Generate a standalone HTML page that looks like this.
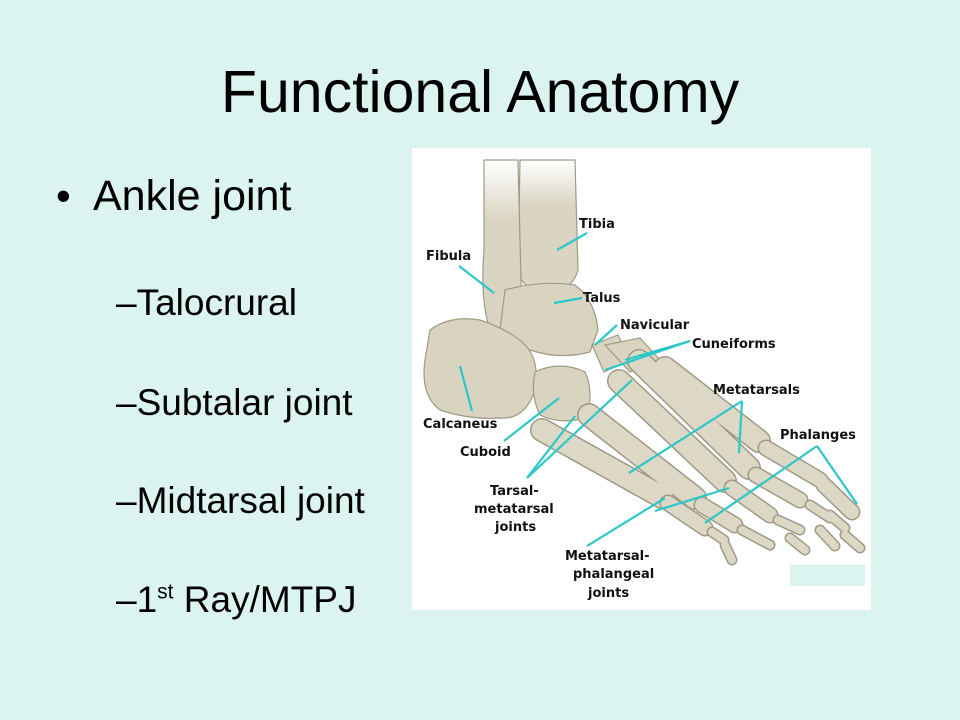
<!DOCTYPE html>
<html><head><meta charset="utf-8"><style>
body{margin:0;width:960px;height:720px;background:#dcf4f0;position:relative;overflow:hidden;font-family:"Liberation Sans",sans-serif;color:#000}
.t{position:absolute;white-space:nowrap;line-height:1}
</style></head><body>
<div class="t" style="left:0;width:960px;text-align:center;top:63px;font-size:59px">Functional Anatomy</div>
<div class="t" style="left:56px;top:175px;font-size:42px">•</div>
<div class="t" style="left:93px;top:175px;font-size:43px">Ankle joint</div>
<div class="t" style="left:116px;top:284px;font-size:37px">–Talocrural</div>
<div class="t" style="left:116px;top:384px;font-size:37px">–Subtalar joint</div>
<div class="t" style="left:116px;top:482px;font-size:37px">–Midtarsal joint</div>
<div class="t" style="left:116px;top:581px;font-size:37px">–1<sup style="font-size:21px">st</sup> Ray/MTPJ</div>
<svg style="position:absolute;left:0;top:0" width="960" height="720">
<defs><linearGradient id="fade" x1="0" y1="0" x2="0" y2="1"><stop offset="0" stop-color="#fff"/><stop offset="0.35" stop-color="#d9d5c2"/></linearGradient></defs>
<rect x="412" y="148" width="459" height="462" fill="#fff"/>
<g fill="#d8d4c0" stroke="#9f9a86" stroke-width="1.2">
<path d="M520 160 L575 160 L578 270 Q572 292 548 290 Q522 292 518 270 Z" fill="url(#fade)"/>
<path d="M484 160 L518 160 L522 320 Q510 340 490 330 Q480 300 484 250 Z" fill="url(#fade)"/>
<path d="M505 290 Q540 280 575 285 Q595 300 598 330 L590 352 Q560 360 530 350 Q508 345 500 330 Z"/>
<path d="M430 330 Q450 315 480 320 Q510 330 525 345 Q540 360 535 390 Q525 420 500 418 Q470 420 440 410 Q420 395 425 360 Z"/>
<path d="M592 345 L618 335 L630 360 L604 372 Z"/>
<path d="M535 372 Q560 360 585 372 Q595 395 585 418 Q560 425 540 415 Q530 395 535 372 Z"/>
<path d="M605 345 L640 338 L660 360 L630 372 Z"/>
</g>
<g stroke-linecap="round" fill="none">
<g stroke="#9f9a86" stroke-width="24"><path d="M542 430 L662 497"/><path d="M589 415 L695 498"/><path d="M619 381 L725 481"/><path d="M639 361 L749 468"/><path d="M665 368 L759 441"/></g>
<g stroke="#dcd8c5" stroke-width="21"><path d="M542 430 L662 497"/><path d="M589 415 L695 498"/><path d="M619 381 L725 481"/><path d="M639 361 L749 468"/><path d="M665 368 L759 441"/></g>
<g stroke="#9f9a86" stroke-width="17"><path d="M668 503 L705 528"/><path d="M702 505 L735 525"/><path d="M732 488 L770 515"/><path d="M756 475 L800 500"/><path d="M766 448 L820 480"/><path d="M824 485 L852 512"/></g>
<g stroke="#dcd8c5" stroke-width="14"><path d="M668 503 L705 528"/><path d="M702 505 L735 525"/><path d="M732 488 L770 515"/><path d="M756 475 L800 500"/><path d="M766 448 L820 480"/><path d="M824 485 L852 512"/></g>
<g stroke="#9f9a86" stroke-width="11"><path d="M712 532 L724 540"/><path d="M742 530 L770 545"/><path d="M778 520 L800 530"/><path d="M810 505 L830 518"/><path d="M725 545 L732 560"/><path d="M790 538 L805 550"/><path d="M820 530 L835 546"/><path d="M845 535 L860 548"/><path d="M830 515 L845 528"/></g>
<g stroke="#dcd8c5" stroke-width="8"><path d="M712 532 L724 540"/><path d="M742 530 L770 545"/><path d="M778 520 L800 530"/><path d="M810 505 L830 518"/><path d="M725 545 L732 560"/><path d="M790 538 L805 550"/><path d="M820 530 L835 546"/><path d="M845 535 L860 548"/><path d="M830 515 L845 528"/></g>
</g>
<g stroke="#2ac8c8" stroke-width="2.2" fill="none">
<path d="M587 233 L557 250"/><path d="M459 266 L494 293"/><path d="M582 298 L554 303"/><path d="M617 325 L595 345"/>
<path d="M690 341 L605 370"/><path d="M690 341 L625 360"/>
<path d="M742 401 L629 473"/><path d="M742 401 L739 453"/>
<path d="M817 446 L857 504"/><path d="M817 446 L705 523"/>
<path d="M460 366 L472 411"/><path d="M504 441 L559 398"/>
<path d="M527 478 L632 380"/><path d="M527 478 L575 416"/>
<path d="M587 546 L665 498"/><path d="M655 511 L729 488"/>
</g>
<g font-family="'DejaVu Sans',sans-serif" font-size="13" font-weight="bold" fill="#111">
<text x="579" y="228">Tibia</text><text x="426" y="260">Fibula</text><text x="583" y="302">Talus</text>
<text x="620" y="329">Navicular</text><text x="692" y="348">Cuneiforms</text><text x="713" y="394">Metatarsals</text>
<text x="780" y="439">Phalanges</text><text x="423" y="428">Calcaneus</text><text x="460" y="456">Cuboid</text>
<text x="490" y="495">Tarsal-</text><text x="474" y="513">metatarsal</text><text x="495" y="531">joints</text>
<text x="565" y="560">Metatarsal-</text><text x="573" y="578">phalangeal</text><text x="588" y="597">joints</text>
</g>
<rect x="790" y="565" width="75" height="21" fill="#dcf4f0"/>
</svg>
</body></html>
